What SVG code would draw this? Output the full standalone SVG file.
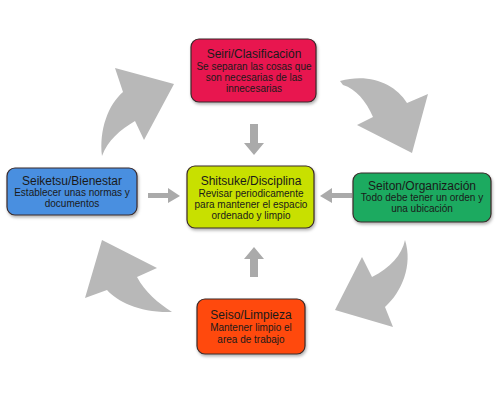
<svg xmlns="http://www.w3.org/2000/svg" width="500" height="400" viewBox="0 0 500 400">
<defs>
<filter id="sh" x="-10%" y="-10%" width="130%" height="140%">
<feDropShadow dx="1" dy="2" stdDeviation="1.5" flood-color="#000" flood-opacity="0.3"/>
</filter>
</defs>
<style>
.box{stroke:#3a2a2a;stroke-width:1.2;filter:url(#sh)}
.t{font-family:"Liberation Sans",Arial,sans-serif;font-size:12px;fill:#1a1a1a;text-anchor:middle}
.b{font-family:"Liberation Sans",Arial,sans-serif;font-size:10px;fill:#1a1a1a;text-anchor:middle}
.big{fill:#b8b8b8}
.sm{fill:#aaaaaa}
</style>
<rect width="500" height="400" fill="#ffffff"/>
<g id="connectors">
<path class="big" d="M102,156 C99,130 108,105 123,92 L115,68 L174,84 L144,140 L135,121 C120,130 108,140 102,156 Z"/>
<path class="big" d="M340,81 C370,73 395,84 407,103 L428,94 L412,153 L357,125 L373,117 C366,101 356,89 343,85 Z"/>
<path class="big" d="M405,240 C413,265 402,292 385,307 L393,327 L335,310 L362,257 L372,277 C390,268 402,255 405,240 Z"/>
<path class="big" d="M172,312 C140,313 118,302 107,290 L85,298 L102,240 L157,268 L137,277 C145,292 158,303 172,312 Z"/>
<polygon class="sm" points="250,124 258,124 258,143 264,143 254,155 244,143 250,143"/>
<polygon class="sm" points="148,193 168,193 168,188 180,196 168,203 168,198 148,198"/>
<polygon class="sm" points="352,193 332,193 332,188 320,196 332,203 332,198 352,198"/>
<polygon class="sm" points="250,277 258,277 258,259 264,259 254,247 244,259 250,259"/>
</g>
<g id="seiri">
<rect class="box" x="191" y="39" width="125" height="63" rx="8" fill="#e8134f"/>
<text class="t" x="254" y="58">Seiri/Clasificación</text>
<text class="b" x="254" y="70">Se separan las cosas que</text>
<text class="b" x="254" y="81">son necesarias de las</text>
<text class="b" x="254" y="92">innecesarias</text>
</g>
<g id="shitsuke">
<rect class="box" x="187" y="166" width="127" height="62" rx="8" fill="#c8e000"/>
<text class="t" x="251" y="185">Shitsuke/Disciplina</text>
<text class="b" x="251" y="197">Revisar periodicamente</text>
<text class="b" x="251" y="208">para mantener el espacio</text>
<text class="b" x="251" y="219">ordenado y limpio</text>
</g>
<g id="seiketsu">
<rect class="box" x="7" y="168" width="130" height="47" rx="8" fill="#4a8fe0"/>
<text class="t" x="72" y="185">Seiketsu/Bienestar</text>
<text class="b" x="72" y="196">Establecer unas normas y</text>
<text class="b" x="72" y="207">documentos</text>
</g>
<g id="seiton">
<rect class="box" x="353" y="173" width="138" height="49" rx="8" fill="#1faa60"/>
<text class="t" x="422" y="190">Seiton/Organización</text>
<text class="b" x="422" y="201">Todo debe tener un orden y</text>
<text class="b" x="422" y="212">una ubicación</text>
</g>
<g id="seiso">
<rect class="box" x="197" y="299" width="108" height="55" rx="8" fill="#ff4a10"/>
<text class="t" x="251" y="319">Seiso/Limpieza</text>
<text class="b" x="251" y="331">Mantener limpio el</text>
<text class="b" x="251" y="343">area de trabajo</text>
</g>
</svg>
